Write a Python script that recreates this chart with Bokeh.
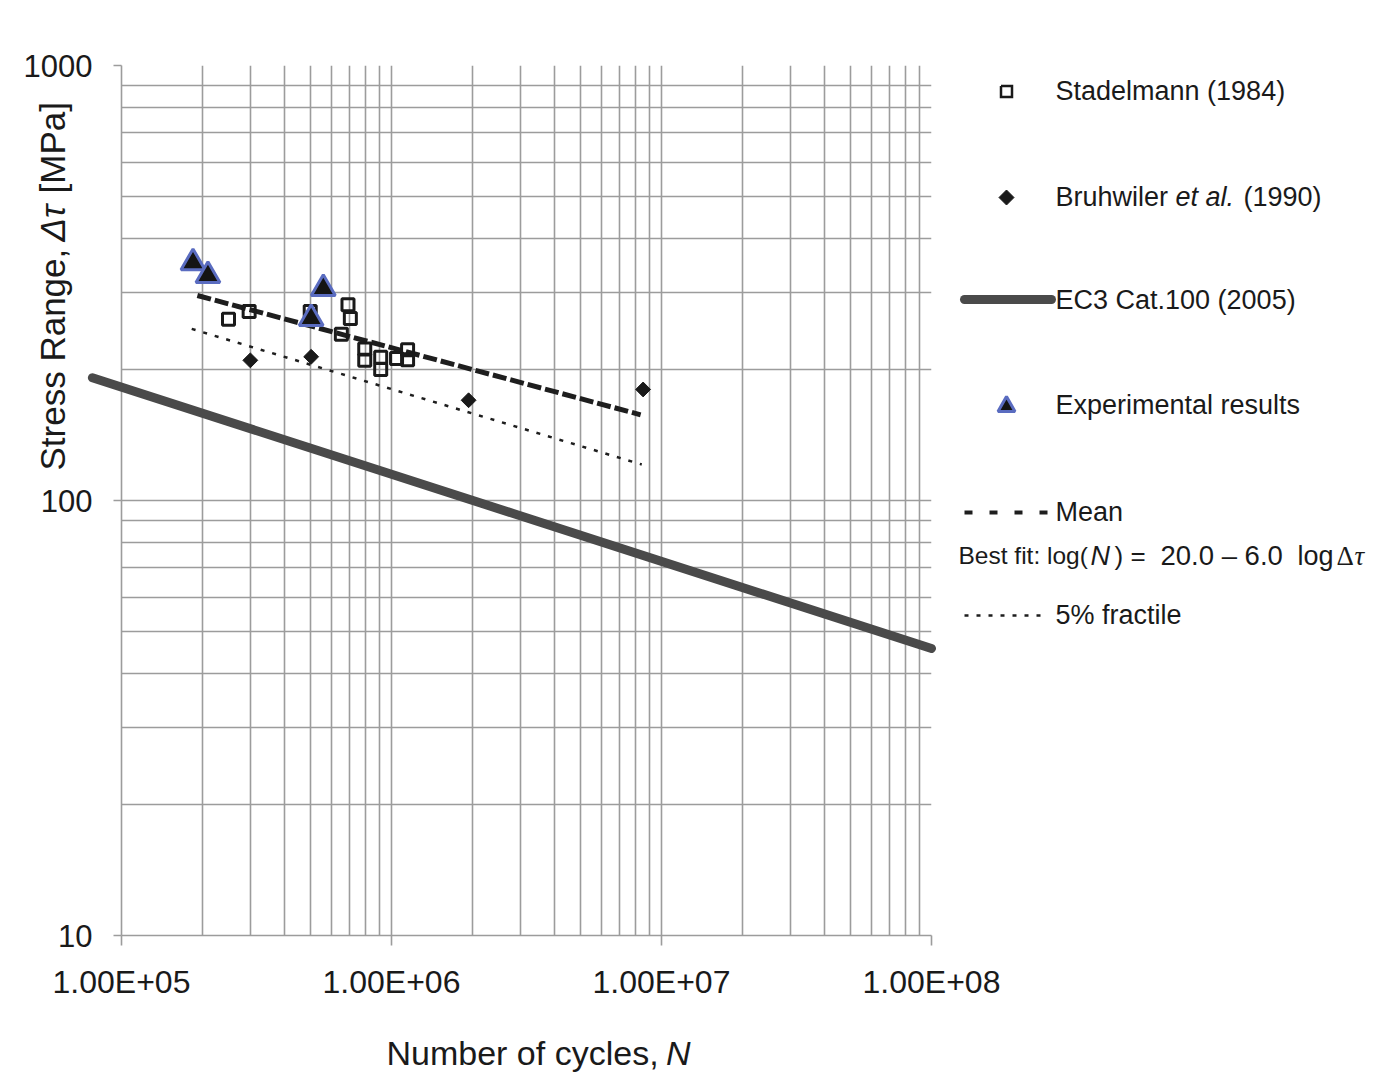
import numpy as np
from bokeh.plotting import figure
from bokeh.models import FixedTicker, CustomJSTickFormatter
from bokeh.core.properties import value
from bokeh.embed import file_html
from bokeh.resources import INLINE

# ---------------- data ----------------
stad_n = [2.49e5, 2.97e5, 5.0e5, 6.9e5, 7.04e5, 6.52e5, 7.96e5, 7.96e5,
          9.12e5, 9.12e5, 1.044e6, 1.147e6, 1.147e6]
stad_s = [261, 272, 272, 282, 262, 241, 223, 210, 213.5, 200, 212, 222, 210.6]

bruh_n = [3.0e5, 5.04e5, 1.93e6, 8.55e6]
bruh_s = [210, 214, 170, 180]

exp_n = [1.84e5, 2.09e5, 5.59e5, 5.04e5]
exp_s = [352, 329, 307, 262]

mean_n = [1.91e5, 8.37e6]
mean_s = [296, 157.4]

frac_n = [1.82e5, 8.45e6]
frac_s = [248, 121]

ec3_n = [7.8e4, 1.0e8]
ec3_s = [191.5, 45.7]

x_ticks = [1e5, 1e6, 1e7, 1e8]
y_ticks = [10, 100, 1000]
x_minor = [m * 10.0 ** e for e in (5, 6, 7) for m in range(2, 10)]
y_minor = [m * 10.0 ** e for e in (1, 2) for m in range(2, 10)]

# ---------------- layout ----------------
W, H = 1390, 1077
FL, FR, FT, FB = 121, 931, 65, 935
GRID = "#9c9c9c"
INK = "#1a1a1a"
FONT = "Liberation Sans"
TRI_LINE = "#5a6cc0"


def xd(px):
    """screen x (px) -> data value on the log x scale"""
    return 10 ** (5 + 3 * (px - FL) / (FR - FL))


def yd(py):
    """screen y (px) -> data value on the log y scale"""
    return 10 ** (3 - 2 * (py - FT) / (FB - FT))


p = figure(width=W, height=H, x_axis_type="log", y_axis_type="log",
           x_range=(1e5, 1e8), y_range=(10, 1000), title=None,
           min_border_left=FL, min_border_right=W - FR,
           min_border_top=FT, min_border_bottom=H - FB,
           toolbar_location=None, output_backend="svg")
p.outline_line_color = None
p.background_fill_color = "white"
p.border_fill_color = "white"

xt = FixedTicker(ticks=x_ticks, minor_ticks=x_minor)
yt = FixedTicker(ticks=y_ticks, minor_ticks=y_minor)
p.xaxis.ticker = xt
p.yaxis.ticker = yt
p.xgrid.ticker = xt
p.ygrid.ticker = yt
for g in (p.xgrid, p.ygrid):
    g.grid_line_color = GRID
    g.grid_line_width = 1.6
    g.minor_grid_line_color = GRID
    g.minor_grid_line_width = 1.6

p.xaxis.formatter = CustomJSTickFormatter(code="""
const e = Math.round(Math.log10(tick));
return "1.00E+" + (e < 10 ? "0" + e : String(e));
""")
p.yaxis.formatter = CustomJSTickFormatter(code="return tick.toFixed(0);")

for ax in (p.xaxis, p.yaxis):
    ax.axis_line_color = GRID
    ax.axis_line_width = 1.6
    ax.major_tick_line_color = GRID
    ax.major_tick_line_width = 1.6
    ax.major_tick_in = 0
    ax.minor_tick_line_color = None
    ax.major_label_text_font = FONT
    ax.major_label_text_color = INK
    ax.axis_label = None
p.xaxis.major_tick_out = 10
p.yaxis.major_tick_out = 8
p.xaxis.major_label_text_font_size = "32px"
p.yaxis.major_label_text_font_size = "31px"
p.xaxis.major_label_standoff = 18
p.yaxis.major_label_standoff = 21

# ---------------- series ----------------
ec3 = p.line(ec3_n, ec3_s, line_width=9, line_color="#4a4a4a", line_cap="round")
ec3.level = "overlay"   # lets the curve run past the axis as in the original
p.line(frac_n, frac_s, line_width=2.5, line_color="#1e1e1e", line_dash="4 8")
p.line(mean_n, mean_s, line_width=5, line_color="#1e1e1e", line_dash="14 4")
p.scatter(stad_n, stad_s, marker="square", size=12, line_width=3,
          line_color=INK, fill_color=None)
p.scatter(bruh_n, bruh_s, marker="square", angle=np.pi / 4, size=10.5,
          line_color=INK, fill_color=INK)
p.scatter(exp_n, exp_s, marker="triangle", size=24, fill_color="#141414",
          line_color=TRI_LINE, line_width=3)

# ---------------- legend, drawn at the right of the plot area ----------------
outside = []


def sym_poly(cx, cy, pts):
    return [xd(cx + dx) for dx, dy in pts], [yd(cy + dy) for dx, dy in pts]


# square symbol
xs, ys = sym_poly(1006, 91, [(-5.5, -5.5), (5.5, -5.5), (5.5, 5.5), (-5.5, 5.5), (-5.5, -5.5)])
outside.append(p.line(xs, ys, line_width=2.5, line_color=INK, line_join="miter"))
# diamond symbol
xs, ys = sym_poly(1006, 197, [(0, -7.5), (7.5, 0), (0, 7.5), (-7.5, 0)])
outside.append(p.patch(xs, ys, fill_color=INK, line_color=INK, line_width=1))
# EC3 line symbol
outside.append(p.line([xd(964), xd(1051)], [yd(299), yd(299)], line_width=9,
                      line_color="#4a4a4a", line_cap="round"))
# triangle symbol
xs, ys = sym_poly(1006, 405, [(0, -9), (8.5, 6), (-8.5, 6)])
outside.append(p.patch(xs, ys, fill_color="#141414", line_color=TRI_LINE, line_width=3))
# mean symbol
outside.append(p.line([xd(964), xd(1051)], [yd(512), yd(512)], line_width=4,
                      line_color="#1e1e1e", line_dash="8 17"))
# fractile symbol
outside.append(p.line([xd(964), xd(1046)], [yd(615), yd(615)], line_width=2.5,
                      line_color="#1e1e1e", line_dash="4 8"))


def lab(px, py, text, size="27px", style="normal", font=FONT, align="left",
        angle=0.0):
    outside.append(p.text([xd(px)], [yd(py)], text=[text], text_font=value(font),
                          text_font_size=size, text_font_style=style,
                          text_color=INK, text_align=align,
                          text_baseline="middle", angle=angle))


lab(1055, 90, "Stadelmann (1984)")
lab(1055, 196, "Bruhwiler")
lab(1175, 196, "et al.", style="italic")
lab(1243, 196, "(1990)")
lab(1055, 299, "EC3 Cat.100 (2005)")
lab(1055, 404, "Experimental results")
lab(1055, 511, "Mean")
lab(958, 555, "Best fit: log(", size="24.5px")
lab(1090, 555, "N", size="27px", style="italic")
lab(1114, 555, ") =", size="26px")
lab(1160, 555, "20.0 \u2013 6.0", size="27.5px")
lab(1297, 555, "log", size="27px")
lab(1336, 555, "\u0394", size="27px", font="Liberation Serif")
lab(1354, 555, "\u03c4", size="27px", font="Liberation Serif", style="italic")
lab(1055, 614, "5% fractile")

# axis titles
lab(386, 1052, "Number of cycles,", size="34px")
lab(690, 1052, "N", size="34px", style="italic", align="right")
lab(52, 470, "Stress Range,", size="35px", angle=np.pi / 2)
lab(52, 241, "\u0394\u03c4", size="35px", style="italic", angle=np.pi / 2)
lab(52, 193, "[MPa]", size="35px", angle=np.pi / 2)

for r in outside:
    r.level = "overlay"

open("out.html", "w").write(file_html(p, INLINE))
